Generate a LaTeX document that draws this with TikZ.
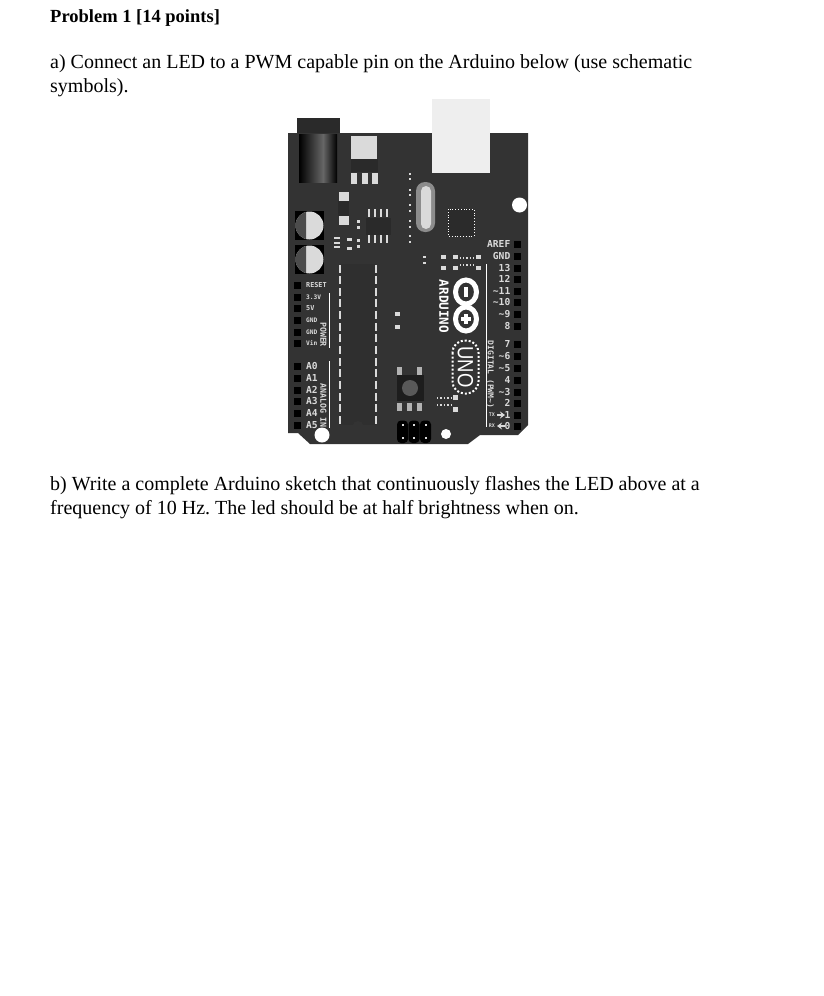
\documentclass[tikz,border=0pt]{standalone}
\usepackage{fontspec}
\usepackage{graphicx}
\usetikzlibrary{arrows.meta}
\setmainfont{Liberation Serif}
\newfontfamily\monobase{DejaVu Sans Mono}
\newcommand{\monob}{\monobase\bfseries}
\newfontfamily\unofont{Liberation Sans}
\definecolor{board}{HTML}{333333}
\definecolor{lite}{HTML}{DADADA}
\definecolor{usbc}{HTML}{EEEEEE}
\definecolor{darkpart}{HTML}{2A2A2A}
\tikzset{
 para/.style={anchor=base west,inner sep=0,font=\frenchspacing\fontsize{20}{24}\selectfont,text=black},
 pinlabel/.style={anchor=east,inner sep=0,text=lite,font=\monob\fontsize{9.6}{10}\selectfont},
 smalllabel/.style={anchor=west,inner sep=0,text=lite,font=\monob\fontsize{6.8}{8}\selectfont},
 vlabel/.style={rotate=-90,inner sep=0,text=lite,font=\monob\fontsize{8.4}{9}\selectfont},
 hole/.style={fill=white},
 silk/.style={draw=white,line width=1pt}
}
\begin{document}
\begin{tikzpicture}[x=1pt,y=-1pt]
\useasboundingbox (0,0) rectangle (824,996);
\fill[white] (0,0) rectangle (824,996);
% text
\node[para,font=\bfseries\fontsize{18.5}{22}\selectfont] (title) at (50,22) {Problem 1 [14 points]};
\node[para] (a1) at (50,68) {a) Connect an LED to a PWM capable pin on the Arduino below (use schematic};
\node[para] (a2) at (50,92) {symbols).};
\node[para] (b1) at (50,490) {b) Write a complete Arduino sketch that continuously flashes the LED above at a};
\node[para] (b2) at (50,514) {frequency of 10 Hz. The led should be at half brightness when on.};
% board
\fill[darkpart] (297,118) rectangle (340,134);
\fill[board] (288,133) -- (528,133) -- (528,425) -- (518,435) -- (480,435) -- (468,444) -- (310,444) -- (298,433) -- (288,433) -- cycle;
% usb
\fill[usbc] (432,99) rectangle (490,173);
% jack
\shade[left color=black,right color=black!60!white] (299,134) rectangle (323,182);
\shade[left color=black!60!white,right color=black] (323,134) rectangle (337,182);
% regulator
\fill[lite] (351,136) rectangle (377,159);
\fill[darkpart] (351,159) rectangle (378,172);
\foreach \x in {351,361.5,372} \fill[lite] (\x,173) rectangle (\x+6,184);
% capacitors
\foreach \y in {211,245}{
 \fill[black] (295,\y) rectangle (324,\y+29);
 \fill[lite] (309.5,\y+14.5) circle (14);
 \begin{scope}
 \clip (290,\y) rectangle (306,\y+29);
 \fill[black!70!white] (309.5,\y+14.5) circle (14);
 \end{scope}
}
% small parts
\fill[darkpart] (338,201) rectangle (349,216);
\fill[lite] (339,192) rectangle (349,201);
\fill[lite] (339,216) rectangle (349,225);
\foreach \y in {221,227,240,246} \fill[lite] (357,\y-1) rectangle (360,\y+1.5);
\foreach \y in {238,242.5,247} \fill[lite] (334,\y-1) rectangle (340,\y+1);
\foreach \y in {239.5,248} \fill[lite] (347,\y-1.5) rectangle (352,\y+1.5);
% soic
\fill[darkpart] (366,218) rectangle (391,235);
\foreach \x in {368,374,380,386}{
 \fill[lite] (\x,209) rectangle (\x+2,217);
 \fill[lite] (\x,235) rectangle (\x+2,243);
}
% dots column
\foreach \y in {174,179,190,195,205,211,221,227,236,242} \fill[lite] (408.7,\y-1.2) rectangle (411.3,\y+1.2);
% crystal
\fill[black!45!white,rounded corners=9pt] (416,182) rectangle (435,232);
\fill[lite,rounded corners=5pt] (421,186) rectangle (431,229);
% qfn
\fill[board!85!black] (448,209) rectangle (474,236);
\draw[white,line width=.8pt,dotted] (448,209) rectangle (474,236);
% holes
\fill[hole] (519.5,205) circle (7.5);
\fill[hole] (322,435) circle (7.5);
\fill[hole] (446,434) circle (5);
% passive parts upper right
\foreach \y in {257,263} \fill[lite] (423,\y-1.3) rectangle (426,\y+1.3);
\foreach \x in {441,453,476}{
 \fill[lite] (\x,254.5) rectangle (\x+5,258.5);
 \fill[lite] (\x,266) rectangle (\x+5,270);
}
\draw[lite,line width=1.2pt,dotted] (460,258) -- (474,258);
\draw[lite,line width=1.2pt,dotted] (460,265) -- (474,265);
% IC socket
\fill[board!92!black] (340,264) rectangle (376,425);
\fill[black!80!white] (353,425) arc[start angle=180,end angle=0,x radius=5,y radius=-4] -- cycle;
\foreach \k in {0,...,13}{
 \fill[lite] (339,264.5+11.65*\k) rectangle (341,272.5+11.65*\k);
 \fill[lite] (375,264.5+11.65*\k) rectangle (377,272.5+11.65*\k);
}
\fill[lite] (394.5,312) rectangle (399.5,316);
\fill[lite] (394.5,325) rectangle (399.5,329);
% reset button
\fill[darkpart!70!black] (397,375) rectangle (424,401);
\fill[black!65!white] (410,388) circle (8);
\foreach \x in {397,417} \fill[black!30!white] (\x,367) rectangle (\x+5,375);
\foreach \x in {397,407,417} \fill[black!30!white] (\x,403) rectangle (\x+5,411);
% ICSP
\foreach \x in {397,408.5,420}{
 \fill[black,rounded corners=4pt] (\x,420.5) rectangle (\x+11,443);
 \fill[lite] (\x+4.5,424) rectangle (\x+6.5,426);
 \fill[lite] (\x+4.5,437) rectangle (\x+6.5,439);
}
% parts near UNO
\draw[lite,line width=1.4pt,dotted] (437,398) -- (451,398);
\draw[lite,line width=1.4pt,dotted] (437,405) -- (451,405);
\fill[lite] (453,395) rectangle (458,399.5);
\fill[lite] (453,407) rectangle (458,412);
% silk lines
\draw[silk] (329,293) -- (329,348);
\draw[silk] (329,361) -- (329,428);
\draw[silk] (486,264) -- (486,427);
% header pins left
\foreach \y in {285,297,308.5,320,332,343,366,378,390,401,413,425}
 \fill[black] (294,\y-3.5) rectangle (301,\y+3.5);
% header pins right
\foreach \y in {244,256,268,279,291,302,314,326,344,356,368,380,392,403,415,426}
 \fill[black] (514,\y-3.5) rectangle (521,\y+3.5);
% left labels
\node[smalllabel] (lreset) at (306,285) {RESET};
\node[smalllabel,font=\monob\fontsize{6.2}{8}\selectfont] (l33) at (306,297) {3.3V};
\node[smalllabel] (l5v) at (306,308.5) {5V};
\node[smalllabel,font=\monob\fontsize{6.2}{8}\selectfont] (lgnda) at (306,320) {GND};
\node[smalllabel,font=\monob\fontsize{6.2}{8}\selectfont] (lgndb) at (306,332) {GND};
\node[smalllabel,font=\monob\fontsize{6.2}{8}\selectfont] (lvin) at (306,343) {Vin};
\foreach \y/\t/\n in {366/A0/aa,378/A1/ab,390/A2/ac,401/A3/ad,413/A4/ae,425/A5/af}
 \node[anchor=west,inner sep=0,text=lite,font=\monob\fontsize{9.6}{10}\selectfont] (\n) at (306,\y) {\t};
\node[vlabel,font=\monob\fontsize{8.3}{9}\selectfont] (lpower) at (323.5,334.5) {POWER};
\node[vlabel,font=\monob\fontsize{8.3}{9}\selectfont] (lanalog) at (323.5,405.5) {ANALOG IN};
% right labels
\foreach \y/\t/\n in {244/AREF/ra,256/GND/rb,268/13/rc,279/12/rd,291/\string~11/re,302/\string~10/rf,314/\string~9/rg,326/8/rh,344/7/ri,356/\string~6/rj,368/\string~5/rk,380/4/rl,392/\string~3/rm,403/2/rn,415/1/ro,426/0/rp}
 \node[pinlabel] (\n) at (510.5,\y) {\t};
\node[vlabel,font=\monob\fontsize{8}{9}\selectfont] (ldig) at (490.5,374.5) {DIGITAL (PWM\string~)};
\node[anchor=east,inner sep=0,text=lite,font=\monob\fontsize{5}{6}\selectfont] (ltx) at (495,414.5) {TX};
\node[anchor=east,inner sep=0,text=lite,font=\monob\fontsize{5}{6}\selectfont] (lrx) at (495,426) {RX};
\draw[lite,line width=1.3pt,-{Stealth[length=5pt,width=7pt]}] (497,415) -- (505,415);
\draw[lite,line width=1.3pt,{Stealth[length=5pt,width=7pt]}-] (497,426) -- (505,426);
% logo
\draw[white,line width=5pt] (466,292) ellipse (10.5 and 12);
\draw[white,line width=5pt] (466,319) ellipse (10.5 and 12);
\fill[white] (464.3,287) rectangle (467.7,297);
\fill[white] (461,317.3) rectangle (471,320.7);
\fill[white] (464.3,314) rectangle (467.7,324);
\node[vlabel,text=white,font=\monob\fontsize{12.6}{13}\selectfont] (lard) at (444,306.5) {ARDUINO};
% uno
\draw[white,line width=2pt,dotted,rounded corners=12pt] (452.5,340.5) rectangle (478.5,393.5);
\node[rotate=-90,inner sep=0,text=white,font=\unofont\fontsize{22}{23}\selectfont] (luno) at (465.5,367) {\scalebox{0.84}[1]{UNO}};
\end{tikzpicture}
\end{document}
